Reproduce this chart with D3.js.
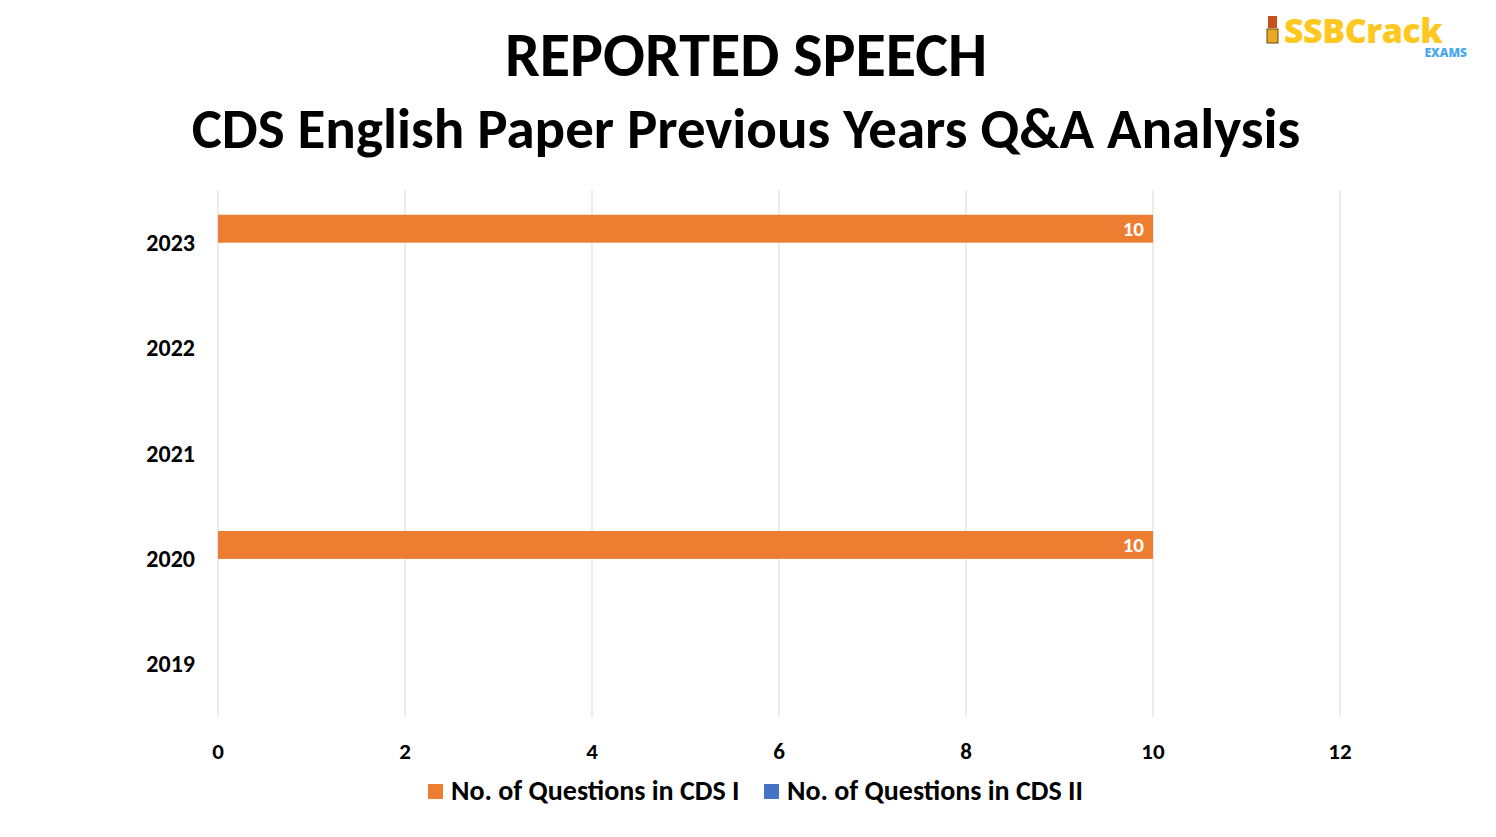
<!DOCTYPE html>
<html><head><meta charset="utf-8">
<script src="https://cdn.jsdelivr.net/npm/d3@7"></script>
<style>body{margin:0;background:#fff}</style>
</head><body>
<svg id="svg" width="1496" height="837"></svg>
<script>
const years = ["2019","2020","2021","2022","2023"];
const seriesNames = ["No. of Questions in CDS I","No. of Questions in CDS II"];
const cds1 = [0,10,0,0,10];
const cds2 = [0,0,0,0,0];
const xTicks = [0,2,4,6,8,10,12];
const colors = ["#ED7D31","#4472C4"];

const svg = d3.select("#svg");
const font = "Calibri, Carlito, Lato, sans-serif";
const plotL = 218, plotR = 1340, plotT = 190, plotB = 717;

svg.append("text").attr("x",746).attr("y",76).attr("text-anchor","middle")
  .style("font-family",font).style("font-weight",700).style("font-size","62px").text("REPORTED SPEECH");
svg.append("text").attr("x",746).attr("y",148).attr("text-anchor","middle")
  .style("font-family",font).style("font-weight",700).style("font-size","57px").text("CDS English Paper Previous Years Q&A Analysis");

// logo
const logo = svg.append("g");
logo.append("rect").attr("x",1268).attr("y",16).attr("width",9).attr("height",12).attr("fill","#c8501a");
logo.append("rect").attr("x",1267).attr("y",29).attr("width",11).attr("height",14).attr("fill","#e8a820").attr("stroke","#6b4a10");
logo.append("text").attr("x",1284).attr("y",43).style("font-family","'Open Sans', sans-serif").style("font-weight",800)
  .style("font-size","34px").style("letter-spacing","-0.5px").attr("fill","#FFC820").text("SSBCrack");
logo.append("text").attr("x",1467).attr("y",57).attr("text-anchor","end").style("font-family","'Open Sans', sans-serif").style("font-weight",800)
  .style("font-size","12px").attr("fill","#4aa8f0").text("EXAMS");

const x = d3.scaleLinear().domain([0,12]).range([plotL,plotR]);
const y = d3.scaleBand().domain(years.slice().reverse()).range([plotT,plotB]).paddingInner(0.47).paddingOuter(0.235);
const y1 = d3.scaleBand().domain([0,1]).range([0,y.bandwidth()]);

svg.append("g").selectAll("line").data(xTicks).join("line")
  .attr("x1",d=>x(d)).attr("x2",d=>x(d)).attr("y1",plotT).attr("y2",plotB)
  .attr("stroke","#D9D9D9").attr("stroke-width",1);

const series = [cds1,cds2];
series.forEach((vals,si)=>{
  const g = svg.append("g");
  g.selectAll("rect").data(years.map((yr,i)=>({yr,v:vals[i]}))).join("rect")
    .attr("x",x(0)).attr("y",d=>y(d.yr)+y1(si)).attr("width",d=>x(d.v)-x(0)).attr("height",y1.bandwidth())
    .attr("fill",colors[si]);
  g.selectAll("text").data(years.map((yr,i)=>({yr,v:vals[i]})).filter(d=>d.v>0)).join("text")
    .attr("x",d=>x(d.v)-9).attr("y",d=>y(d.yr)+y1(si)+y1.bandwidth()/2+7).attr("text-anchor","end")
    .style("font-family",font).style("font-weight",700).style("font-size","21px").attr("fill","#fff").text(d=>d.v);
});

svg.append("g").selectAll("text").data(years).join("text")
  .attr("x",195).attr("y",d=>y(d)+y.bandwidth()/2+8).attr("text-anchor","end")
  .style("font-family",font).style("font-weight",700).style("font-size","24px").text(d=>d);

svg.append("g").selectAll("text").data(xTicks).join("text")
  .attr("x",d=>x(d)).attr("y",759).attr("text-anchor","middle")
  .style("font-family",font).style("font-weight",700).style("font-size","23px").text(d=>d);

const lg = svg.append("g");
const lx = [428,764];
seriesNames.forEach((n,i)=>{
  lg.append("rect").attr("x",lx[i]).attr("y",784).attr("width",15).attr("height",15).attr("fill",colors[i]);
  lg.append("text").attr("x",lx[i]+23).attr("y",800).style("font-family",font).style("font-weight",700)
    .style("font-size","28px").text(n);
});
</script>
</body></html>
